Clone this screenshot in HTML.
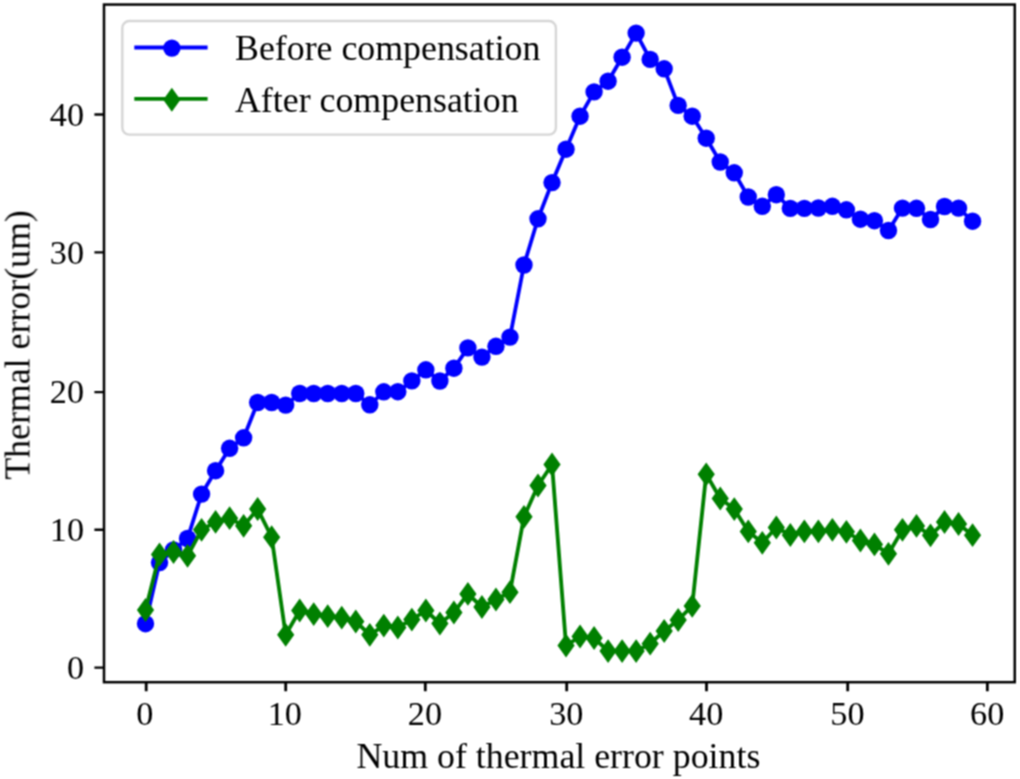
<!DOCTYPE html>
<html><head><meta charset="utf-8"><title>Thermal error compensation</title>
<style>html,body{margin:0;padding:0;background:#fff;}body{width:1020px;height:779px;overflow:hidden;}svg{display:block;}</style>
</head><body>
<svg width="1020" height="779" viewBox="0 0 1020 779" font-family="'Liberation Serif', 'Times New Roman', serif" font-size="35.85" fill="#000"><defs><filter id="soft" filterUnits="userSpaceOnUse" x="0" y="0" width="1020" height="779" color-interpolation-filters="sRGB"><feConvolveMatrix order="3" kernelMatrix="0.0625 0.1250 0.0625 0.1250 0.2500 0.1250 0.0625 0.1250 0.0625" divisor="1" edgeMode="duplicate" preserveAlpha="false"/></filter></defs><rect width="1020" height="779" fill="#fff"/><g filter="url(#soft)">
<polyline points="145.5,623.7 159.52,562.6 173.54,550 187.55,538.5 201.57,494.1 215.59,470.7 229.61,448.3 243.63,437.8 257.64,402.5 271.66,402.5 285.68,405.1 299.7,393.5 313.72,393.5 327.73,393.5 341.75,393.5 355.77,393.5 369.79,404.8 383.81,391.8 397.82,391.7 411.84,380.9 425.86,369.8 439.88,381 453.9,368.2 467.91,347.9 481.93,357.1 495.95,346.3 509.97,337.1 523.99,265 538,218.8 552.02,182.6 566.04,149.2 580.06,116.2 594.08,91.9 608.09,81.2 622.11,57.2 636.13,33.1 650.15,59.4 664.17,68.8 678.18,105.4 692.2,116.2 706.22,138.2 720.24,162 734.26,172.8 748.27,197 762.29,206.3 776.31,194.7 790.33,208.4 804.35,208.4 818.36,208 832.38,206.3 846.4,209.8 860.42,219.2 874.44,220.7 888.45,230.5 902.47,208.1 916.49,208.3 930.51,219.5 944.53,206.5 958.54,208.1 972.56,221.2" fill="none" stroke="#0000ff" stroke-width="3.8" stroke-linejoin="round"/>
<g fill="#0000ff"><circle cx="145.5" cy="623.7" r="8.7"/><circle cx="159.52" cy="562.6" r="8.7"/><circle cx="173.54" cy="550" r="8.7"/><circle cx="187.55" cy="538.5" r="8.7"/><circle cx="201.57" cy="494.1" r="8.7"/><circle cx="215.59" cy="470.7" r="8.7"/><circle cx="229.61" cy="448.3" r="8.7"/><circle cx="243.63" cy="437.8" r="8.7"/><circle cx="257.64" cy="402.5" r="8.7"/><circle cx="271.66" cy="402.5" r="8.7"/><circle cx="285.68" cy="405.1" r="8.7"/><circle cx="299.7" cy="393.5" r="8.7"/><circle cx="313.72" cy="393.5" r="8.7"/><circle cx="327.73" cy="393.5" r="8.7"/><circle cx="341.75" cy="393.5" r="8.7"/><circle cx="355.77" cy="393.5" r="8.7"/><circle cx="369.79" cy="404.8" r="8.7"/><circle cx="383.81" cy="391.8" r="8.7"/><circle cx="397.82" cy="391.7" r="8.7"/><circle cx="411.84" cy="380.9" r="8.7"/><circle cx="425.86" cy="369.8" r="8.7"/><circle cx="439.88" cy="381" r="8.7"/><circle cx="453.9" cy="368.2" r="8.7"/><circle cx="467.91" cy="347.9" r="8.7"/><circle cx="481.93" cy="357.1" r="8.7"/><circle cx="495.95" cy="346.3" r="8.7"/><circle cx="509.97" cy="337.1" r="8.7"/><circle cx="523.99" cy="265" r="8.7"/><circle cx="538" cy="218.8" r="8.7"/><circle cx="552.02" cy="182.6" r="8.7"/><circle cx="566.04" cy="149.2" r="8.7"/><circle cx="580.06" cy="116.2" r="8.7"/><circle cx="594.08" cy="91.9" r="8.7"/><circle cx="608.09" cy="81.2" r="8.7"/><circle cx="622.11" cy="57.2" r="8.7"/><circle cx="636.13" cy="33.1" r="8.7"/><circle cx="650.15" cy="59.4" r="8.7"/><circle cx="664.17" cy="68.8" r="8.7"/><circle cx="678.18" cy="105.4" r="8.7"/><circle cx="692.2" cy="116.2" r="8.7"/><circle cx="706.22" cy="138.2" r="8.7"/><circle cx="720.24" cy="162" r="8.7"/><circle cx="734.26" cy="172.8" r="8.7"/><circle cx="748.27" cy="197" r="8.7"/><circle cx="762.29" cy="206.3" r="8.7"/><circle cx="776.31" cy="194.7" r="8.7"/><circle cx="790.33" cy="208.4" r="8.7"/><circle cx="804.35" cy="208.4" r="8.7"/><circle cx="818.36" cy="208" r="8.7"/><circle cx="832.38" cy="206.3" r="8.7"/><circle cx="846.4" cy="209.8" r="8.7"/><circle cx="860.42" cy="219.2" r="8.7"/><circle cx="874.44" cy="220.7" r="8.7"/><circle cx="888.45" cy="230.5" r="8.7"/><circle cx="902.47" cy="208.1" r="8.7"/><circle cx="916.49" cy="208.3" r="8.7"/><circle cx="930.51" cy="219.5" r="8.7"/><circle cx="944.53" cy="206.5" r="8.7"/><circle cx="958.54" cy="208.1" r="8.7"/><circle cx="972.56" cy="221.2" r="8.7"/></g>
<polyline points="145.5,610 159.52,554.5 173.54,552 187.55,555.8 201.57,529.8 215.59,521.9 229.61,518.2 243.63,525.8 257.64,509 271.66,537.2 285.68,634.8 299.7,610.5 313.72,614.1 327.73,616.2 341.75,617.7 355.77,621.5 369.79,634.8 383.81,625.6 397.82,627.5 411.84,619.6 425.86,610.5 439.88,623.5 453.9,612.5 467.91,593.9 481.93,607 495.95,599.5 509.97,592.2 523.99,516.8 538,485.5 552.02,464.5 566.04,645.6 580.06,636.5 594.08,638 608.09,651.1 622.11,651.1 636.13,651.1 650.15,643.7 664.17,631 678.18,620 692.2,605.9 706.22,474.3 720.24,498.5 734.26,509.1 748.27,531.4 762.29,542.8 776.31,527.5 790.33,535 804.35,531.4 818.36,531.4 832.38,529.8 846.4,531.8 860.42,540.5 874.44,544.4 888.45,553.8 902.47,529.8 916.49,525.9 930.51,535.3 944.53,522 958.54,524 972.56,535.2" fill="none" stroke="#008000" stroke-width="3.8" stroke-linejoin="round"/>
<path fill="#008000" d="M145.5 598.1L154.1 610L145.5 621.9L136.9 610ZM159.52 542.6L168.12 554.5L159.52 566.4L150.92 554.5ZM173.54 540.1L182.14 552L173.54 563.9L164.94 552ZM187.55 543.9L196.15 555.8L187.55 567.7L178.95 555.8ZM201.57 517.9L210.17 529.8L201.57 541.7L192.97 529.8ZM215.59 510L224.19 521.9L215.59 533.8L206.99 521.9ZM229.61 506.3L238.21 518.2L229.61 530.1L221.01 518.2ZM243.63 513.9L252.23 525.8L243.63 537.7L235.03 525.8ZM257.64 497.1L266.24 509L257.64 520.9L249.04 509ZM271.66 525.3L280.26 537.2L271.66 549.1L263.06 537.2ZM285.68 622.9L294.28 634.8L285.68 646.7L277.08 634.8ZM299.7 598.6L308.3 610.5L299.7 622.4L291.1 610.5ZM313.72 602.2L322.32 614.1L313.72 626L305.12 614.1ZM327.73 604.3L336.33 616.2L327.73 628.1L319.13 616.2ZM341.75 605.8L350.35 617.7L341.75 629.6L333.15 617.7ZM355.77 609.6L364.37 621.5L355.77 633.4L347.17 621.5ZM369.79 622.9L378.39 634.8L369.79 646.7L361.19 634.8ZM383.81 613.7L392.41 625.6L383.81 637.5L375.21 625.6ZM397.82 615.6L406.42 627.5L397.82 639.4L389.22 627.5ZM411.84 607.7L420.44 619.6L411.84 631.5L403.24 619.6ZM425.86 598.6L434.46 610.5L425.86 622.4L417.26 610.5ZM439.88 611.6L448.48 623.5L439.88 635.4L431.28 623.5ZM453.9 600.6L462.5 612.5L453.9 624.4L445.3 612.5ZM467.91 582L476.51 593.9L467.91 605.8L459.31 593.9ZM481.93 595.1L490.53 607L481.93 618.9L473.33 607ZM495.95 587.6L504.55 599.5L495.95 611.4L487.35 599.5ZM509.97 580.3L518.57 592.2L509.97 604.1L501.37 592.2ZM523.99 504.9L532.59 516.8L523.99 528.7L515.39 516.8ZM538 473.6L546.6 485.5L538 497.4L529.4 485.5ZM552.02 452.6L560.62 464.5L552.02 476.4L543.42 464.5ZM566.04 633.7L574.64 645.6L566.04 657.5L557.44 645.6ZM580.06 624.6L588.66 636.5L580.06 648.4L571.46 636.5ZM594.08 626.1L602.68 638L594.08 649.9L585.48 638ZM608.09 639.2L616.69 651.1L608.09 663L599.49 651.1ZM622.11 639.2L630.71 651.1L622.11 663L613.51 651.1ZM636.13 639.2L644.73 651.1L636.13 663L627.53 651.1ZM650.15 631.8L658.75 643.7L650.15 655.6L641.55 643.7ZM664.17 619.1L672.77 631L664.17 642.9L655.57 631ZM678.18 608.1L686.78 620L678.18 631.9L669.58 620ZM692.2 594L700.8 605.9L692.2 617.8L683.6 605.9ZM706.22 462.4L714.82 474.3L706.22 486.2L697.62 474.3ZM720.24 486.6L728.84 498.5L720.24 510.4L711.64 498.5ZM734.26 497.2L742.86 509.1L734.26 521L725.66 509.1ZM748.27 519.5L756.87 531.4L748.27 543.3L739.67 531.4ZM762.29 530.9L770.89 542.8L762.29 554.7L753.69 542.8ZM776.31 515.6L784.91 527.5L776.31 539.4L767.71 527.5ZM790.33 523.1L798.93 535L790.33 546.9L781.73 535ZM804.35 519.5L812.95 531.4L804.35 543.3L795.75 531.4ZM818.36 519.5L826.96 531.4L818.36 543.3L809.76 531.4ZM832.38 517.9L840.98 529.8L832.38 541.7L823.78 529.8ZM846.4 519.9L855 531.8L846.4 543.7L837.8 531.8ZM860.42 528.6L869.02 540.5L860.42 552.4L851.82 540.5ZM874.44 532.5L883.04 544.4L874.44 556.3L865.84 544.4ZM888.45 541.9L897.05 553.8L888.45 565.7L879.85 553.8ZM902.47 517.9L911.07 529.8L902.47 541.7L893.87 529.8ZM916.49 514L925.09 525.9L916.49 537.8L907.89 525.9ZM930.51 523.4L939.11 535.3L930.51 547.2L921.91 535.3ZM944.53 510.1L953.13 522L944.53 533.9L935.93 522ZM958.54 512.1L967.14 524L958.54 535.9L949.94 524ZM972.56 523.3L981.16 535.2L972.56 547.1L963.96 535.2Z"/>
<rect x="104.0" y="4.55" width="910.75" height="677.65" fill="none" stroke="#000" stroke-width="2.5"/>
<path d="M146.2 682.2V691.2M285.7 682.2V691.2M425.3 682.2V691.2M566.7 682.2V691.2M706.5 682.2V691.2M847.7 682.2V691.2M987.35 682.2V691.2" stroke="#000" stroke-width="2.8" fill="none"/>
<path d="M104 667.6H94.4M104 529.76H94.4M104 392.07H94.4M104 252.45H94.4M104 114.5H94.4" stroke="#000" stroke-width="2.3" fill="none"/>
<g font-size="34.2"><text x="144.9" y="725.2" text-anchor="middle">0</text><text x="284.8" y="725.2" text-anchor="middle">10</text><text x="424.9" y="725.2" text-anchor="middle">20</text><text x="566.3" y="725.2" text-anchor="middle">30</text><text x="706.2" y="725.2" text-anchor="middle">40</text><text x="847.4" y="725.2" text-anchor="middle">50</text><text x="987.2" y="725.2" text-anchor="middle">60</text><text x="84" y="678.9" text-anchor="end">0</text><text x="84" y="541.06" text-anchor="end">10</text><text x="84" y="403.37" text-anchor="end">20</text><text x="84" y="263.75" text-anchor="end">30</text><text x="84" y="125.8" text-anchor="end">40</text></g>
<text x="558.38" y="767.7" text-anchor="middle">Num of thermal error points</text>
<text transform="translate(29.5 344.88) rotate(-90)" text-anchor="middle">Thermal error(um)</text>
<rect x="122.3" y="21" width="433.6" height="113.6" rx="7" ry="7" fill="#fff" fill-opacity="0.8" stroke="#d6d6d6" stroke-width="2.4"/>
<path d="M134.3 47.5H207.6" stroke="#0000ff" stroke-width="3.8"/>
<circle cx="171.85" cy="48.1" r="8.7" fill="#0000ff"/>
<path d="M134.3 98.8H207.6" stroke="#008000" stroke-width="3.8"/>
<path d="M171.85 87.85L180.45 99.75L171.85 111.65L163.25 99.75Z" fill="#008000"/>
<text x="235" y="60.2">Before compensation</text><text x="235" y="111.6">After compensation</text>
</g></svg>
</body></html>
